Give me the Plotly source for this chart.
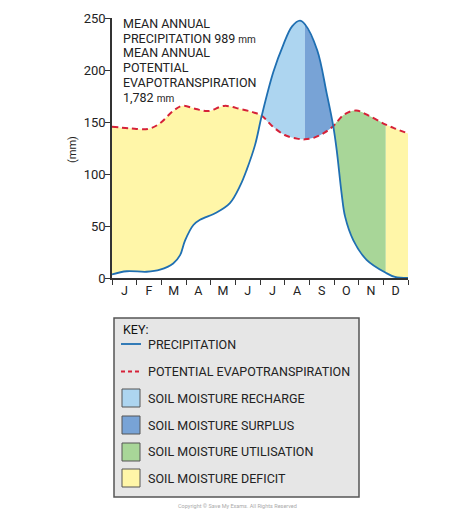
import plotly.graph_objects as go

# ---------------- data (x in months from start of January) ----------------
months = ["J", "F", "M", "A", "M", "J", "J", "A", "S", "O", "N", "D"]

precip_x = [0, 0.6, 1.4, 1.95, 2.48, 2.76, 2.96, 3.3, 3.57, 4.24, 4.78, 5.2, 5.46, 5.8,
            6.07, 6.54, 6.94, 7.3, 7.62, 7.82, 8.32, 8.7, 8.97, 9.11, 9.31, 9.45, 9.78,
            10.32, 11.1, 11.47, 12]
precip_y = [3.5, 6.5, 6, 8, 14, 22, 36, 51, 56, 63, 72, 89, 104, 128,
            156, 198, 224, 242, 247.5, 244, 219, 178, 146, 123, 81, 59, 36.5,
            17.5, 5, 1, 0]

pet_x = [0, 0.7, 1.45, 1.9, 2.5, 2.85, 3.4, 3.9, 4.55, 5.2, 5.7, 6.07, 6.5, 7.0, 7.5,
         7.82, 8.2, 8.6, 8.97, 9.4, 9.9, 10.5, 11.1, 11.5, 12]
pet_y = [145.5, 144, 143.3, 148, 161, 165.5, 162.5, 160.5, 165.5, 162.5, 159.5, 156, 146,
         137.5, 134, 133.3, 135, 139.5, 146, 157, 161, 155, 147.5, 143.5, 139]

# region boundaries (month positions) and which curve is on top
regions = [
    ("SOIL MOISTURE DEFICIT", 0, 6.07, "pet", "#FFF6A8"),
    ("SOIL MOISTURE RECHARGE", 6.07, 7.82, "precip", "#ADD5F0"),
    ("SOIL MOISTURE SURPLUS", 7.82, 8.97, "precip", "#78A3D6"),
    ("SOIL MOISTURE UTILISATION", 8.97, 11.1, "pet", "#A8D698"),
    ("SOIL MOISTURE DEFICIT", 11.1, 12, "pet", "#FFF6A8"),
]

legend_items = [
    ("line", "PRECIPITATION", "#1F6FB2"),
    ("dash", "POTENTIAL EVAPOTRANSPIRATION", "#D62138"),
    ("box", "SOIL MOISTURE RECHARGE", "#ADD5F0"),
    ("box", "SOIL MOISTURE SURPLUS", "#78A3D6"),
    ("box", "SOIL MOISTURE UTILISATION", "#A8D698"),
    ("box", "SOIL MOISTURE DEFICIT", "#FFF6A8"),
]

info_lines = [
    "MEAN ANNUAL",
    "PRECIPITATION 989 <span style='font-size:10px'>mm</span>",
    "MEAN ANNUAL",
    "POTENTIAL",
    "EVAPOTRANSPIRATION",
    "1,782 <span style='font-size:10px'>mm</span>",
]

FONT = "Roboto, Arial, sans-serif"
PRECIP_COLOR = "#1F6FB2"
PET_COLOR = "#D62138"

fig = go.Figure()


def subset(xs, ys, a, b):
    pts = [(x, y) for x, y in zip(xs, ys) if a - 1e-9 <= x <= b + 1e-9]
    return [p[0] for p in pts], [p[1] for p in pts]


for name, a, b, top, col in regions:
    px_, py_ = subset(precip_x, precip_y, a, b)
    ex_, ey_ = subset(pet_x, pet_y, a, b)
    if top == "pet":
        lo, hi = (px_, py_), (ex_, ey_)
    else:
        lo, hi = (ex_, ey_), (px_, py_)
    fig.add_trace(go.Scatter(x=lo[0], y=lo[1], mode="lines",
                             line=dict(width=0, shape="spline", color=col),
                             hoverinfo="skip", showlegend=False))
    fig.add_trace(go.Scatter(x=hi[0], y=hi[1], mode="lines", fill="tonexty",
                             fillcolor=col,
                             line=dict(width=0, shape="spline", color=col),
                             hoverinfo="skip", showlegend=False))

fig.add_trace(go.Scatter(x=pet_x, y=pet_y, mode="lines",
                         line=dict(color=PET_COLOR, width=2, dash="6px,4px", shape="spline"),
                         hoverinfo="skip", showlegend=False))
fig.add_trace(go.Scatter(x=precip_x, y=precip_y, mode="lines",
                         line=dict(color=PRECIP_COLOR, width=1.8, shape="spline"),
                         hoverinfo="skip", showlegend=False))

# ---------------- layout helpers (pixel -> paper) ----------------
L, R, T, B = 112, 408, 18, 278
W, H = 474, 517


def X(px):
    return (px - L) / (R - L)


def Y(py):
    return (B - py) / (B - T)


shapes = []
annotations = []

# info text
for i, line in enumerate(info_lines):
    annotations.append(dict(x=X(121), y=Y(23.2 + i * 14.9), xref="paper", yref="paper",
                            text=line, showarrow=False, xanchor="left", yanchor="middle",
                            font=dict(family=FONT, size=12.5, color="#222")))

# y-axis title
annotations.append(dict(x=X(72), y=Y(150), xref="paper", yref="paper", text="(mm)",
                        showarrow=False, textangle=-90, xanchor="center", yanchor="middle",
                        font=dict(family=FONT, size=11, color="#222")))

# legend box
shapes.append(dict(type="rect", xref="paper", yref="paper", x0=X(114), x1=X(359),
                   y0=Y(497), y1=Y(318), fillcolor="#E6E6E6",
                   line=dict(color="#555555", width=1.5), layer="above"))
annotations.append(dict(x=X(121), y=Y(329), xref="paper", yref="paper", text="KEY:",
                        showarrow=False, xanchor="left", yanchor="middle",
                        font=dict(family=FONT, size=12.5, color="#111")))
item_y = [344, 371.5, 398, 425, 452, 478]
for (kind, label, col), yy in zip(legend_items, item_y):
    if kind == "line":
        shapes.append(dict(type="line", xref="paper", yref="paper", x0=X(121), x1=X(141),
                           y0=Y(yy), y1=Y(yy), line=dict(color=col, width=1.8), layer="above"))
    elif kind == "dash":
        shapes.append(dict(type="line", xref="paper", yref="paper", x0=X(121), x1=X(141),
                           y0=Y(yy), y1=Y(yy), line=dict(color=col, width=1.8, dash="4px,3px"),
                           layer="above"))
    else:
        shapes.append(dict(type="rect", xref="paper", yref="paper", x0=X(122), x1=X(140),
                           y0=Y(yy + 9), y1=Y(yy - 9), fillcolor=col,
                           line=dict(color="#555555", width=1), layer="above"))
    annotations.append(dict(x=X(146), y=Y(yy), xref="paper", yref="paper", text=label,
                            showarrow=False, xanchor="left", yanchor="middle",
                            font=dict(family=FONT, size=12.5, color="#222")))

# copyright
annotations.append(dict(x=X(237), y=Y(506), xref="paper", yref="paper",
                        text="Copyright © Save My Exams. All Rights Reserved",
                        showarrow=False, xanchor="center", yanchor="middle",
                        font=dict(family=FONT, size=5.5, color="#AAAAAA")))

fig.update_layout(
    width=W, height=H,
    margin=dict(l=L, r=W - R, t=T, b=H - B, pad=0),
    paper_bgcolor="white", plot_bgcolor="white",
    showlegend=False, hovermode=False,
    shapes=shapes, annotations=annotations,
    xaxis=dict(range=[0, 12], tickvals=[i + 0.5 for i in range(12)], ticktext=months,
               ticks="",
               minor=dict(tickmode="linear", tick0=0, dtick=1, ticks="outside", ticklen=5,
                          tickcolor="#333", tickwidth=1.3),
               showline=True, linecolor="#333", linewidth=1.5, showgrid=False, zeroline=False,
               tickfont=dict(family=FONT, size=12.5, color="#222"), fixedrange=True),
    yaxis=dict(range=[0, 250], tickvals=[0, 50, 100, 150, 200, 250],
               ticks="outside", ticklen=5, tickcolor="#333", tickwidth=1.3,
               ticklabelstandoff=-3,
               showline=True, linecolor="#333", linewidth=1.5, showgrid=False, zeroline=False,
               tickfont=dict(family=FONT, size=13, color="#222"), fixedrange=True),
)

fig.write_html("out.html")
